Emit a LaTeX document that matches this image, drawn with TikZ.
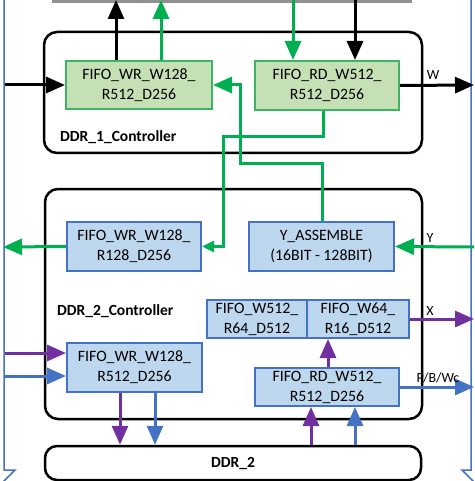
\documentclass[tikz,border=0pt]{standalone}
\usepackage{fontspec}
\setmainfont{Carlito}
\usetikzlibrary{arrows.meta}
\definecolor{gfill}{HTML}{C5E0B4}
\definecolor{gline}{HTML}{3CB464}
\definecolor{garrow}{HTML}{00B050}
\definecolor{bfill}{HTML}{BDD7EE}
\definecolor{bline}{HTML}{4472C4}
\definecolor{parrow}{HTML}{7030A0}
\tikzset{
  ctrl/.style={draw=black, line width=2.5pt, rounded corners=13pt, fill=none},
  gbox/.style={draw=gline, fill=gfill, line width=2pt, align=center, font=\fontsize{15.8}{20}\selectfont, inner sep=0pt},
  bbox/.style={draw=bline, fill=bfill, line width=2pt, align=center, font=\fontsize{15.8}{20}\selectfont, inner sep=0pt},
  arr/.style={line width=3pt, -{Triangle[length=19pt,width=16pt]}},
  sarr/.style={line width=3pt, -{Triangle[length=12pt,width=11pt]}},
  lbl/.style={font=\fontsize{14}{16}\selectfont, inner sep=0pt},
  ttl/.style={font=\bfseries\fontsize{15.5}{18}\selectfont, inner sep=0pt, anchor=west},
  side/.style={draw=bline, line width=1.5pt},
}
\begin{document}
\begin{tikzpicture}[x=1pt,y=-1pt]
\useasboundingbox (0,0) rectangle (474,481);
% top gray bar (bottom of an upper block)
\fill[gray!75!black!70] (52,-2) rectangle (412,3);
% side block arrows
\draw[side] (4,-5) -- (4,470) -- (15,470) -- (3,482);
\draw[side] (471,-5) -- (471,470) -- (462,470) -- (474,482);

% DDR_1 controller
\node[ctrl, minimum width=378pt, minimum height=121pt] (c1) at (233,92.5) {};
\node[ttl] (c1t) at (60,137) {DDR\_1\_Controller};
\node[gbox, minimum width=146pt, minimum height=48pt] (wr1) at (139,85) {FIFO\_WR\_W128\_\\R512\_D256};
\node[gbox, minimum width=144pt, minimum height=49pt] (rd1) at (327,85.5) {FIFO\_RD\_W512\_\\R512\_D256};

% DDR_2 controller
\node[ctrl, minimum width=377pt, minimum height=230pt] (c2) at (233.5,304) {};
\node[ttl] (c2t) at (57,311) {DDR\_2\_Controller};
\node[bbox, minimum width=134pt, minimum height=49pt] (wr128) at (134,246.5) {FIFO\_WR\_W128\_\\R128\_D256};
\node[bbox, minimum width=145pt, minimum height=49pt] (ya) at (321.5,246.5) {Y\_ASSEMBLE\\(16BIT - 128BIT)};
\node[bbox, minimum width=100pt, minimum height=38pt] (w512) at (257,319) {FIFO\_W512\_\\R64\_D512};
\node[bbox, minimum width=102pt, minimum height=38pt] (w64) at (358,319) {FIFO\_W64\_\\R16\_D512};
\node[bbox, minimum width=135pt, minimum height=49pt] (wr2) at (134.5,367.5) {FIFO\_WR\_W128\_\\R512\_D256};
\node[bbox, minimum width=144pt, minimum height=38pt] (rd2) at (327,387) {FIFO\_RD\_W512\_\\R512\_D256};

% DDR_2
\node[ctrl, rounded corners=12pt, minimum width=376pt, minimum height=34pt, font=\bfseries\fontsize{15.5}{18}\selectfont] (ddr2) at (233,463) {DDR\_2};

% free ends
\coordinate (tA) at (116,0);
\coordinate (tB) at (161,0);
\coordinate (tC) at (293,0);
\coordinate (tD) at (355,0);
\coordinate (inK) at (5,85);
\coordinate (outW) at (474,85);
\coordinate (outG) at (3,247);
\coordinate (inY) at (474,247);
\coordinate (outX) at (474,319);
\coordinate (inP) at (5,353);
\coordinate (inB) at (5,376);
\coordinate (outP) at (474,387);
\coordinate (g1) at (323,137);
\coordinate (g2) at (223,137);
\coordinate (h1) at (322,163);
\coordinate (h2) at (240,163);
\coordinate (dP) at (120,0);
\coordinate (dB) at (155,0);
\coordinate (uP) at (311,0);
\coordinate (uB) at (355,0);
\coordinate (uM) at (328,0);

% DDR_1 connectors
\draw[arr, black] (wr1.north -| tA) -- (tA);
\draw[arr, garrow] (wr1.north -| tB) -- (tB);
\draw[arr, garrow] (tC) -- (rd1.north -| tC);
\draw[arr, black] (tD) -- (rd1.north -| tD);
\draw[arr, black] (inK) -- (wr1.west);
\draw[arr, black] (rd1.east) -- (outW);
\node[lbl] (lw) at (433,75) {W};

% green cross links
\draw[sarr, garrow] (rd1.south -| g1) -- (g1) -- (g2) -- (g2 |- wr128.east) -- (wr128.east);
\draw[arr, garrow] (ya.north -| h1) -- (h1) -- (h2) -- (h2 |- wr1.east) -- (wr1.east);

% DDR_2 connectors
\draw[arr, garrow] (wr128.west) -- (outG);
\draw[arr, garrow] (inY) -- (ya.east);
\node[lbl] (ly) at (430,238) {Y};
\draw[arr, parrow] (w64.east) -- (outX);
\node[lbl] (lx) at (430,311) {X};
\draw[arr, parrow] (inP) -- (wr2.west |- inP);
\draw[arr, bline] (inB) -- (wr2.west |- inB);
\draw[arr, parrow] (wr2.south -| dP) -- (ddr2.north -| dP);
\draw[arr, bline] (wr2.south -| dB) -- (ddr2.north -| dB);
\draw[arr, parrow] (rd2.north -| uM) -- (w64.south -| uM);
\draw[arr, bline] (rd2.east) -- (outP);
\node[lbl] (lp) at (438,378) {P/B/Wc};
\draw[arr, parrow] (ddr2.north -| uP) -- (rd2.south -| uP);
\draw[arr, bline] (ddr2.north -| uB) -- (rd2.south -| uB);
\end{tikzpicture}
\end{document}
